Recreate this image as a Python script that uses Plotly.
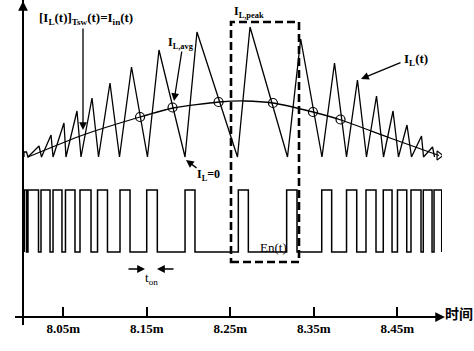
import plotly.graph_objects as go

W, H = 474, 351

# ---------------- data (time in ms) ----------------
# inductor current IL(t) vertices (arbitrary current units, valley = 0)
il_t = [8.0029, 8.0029, 8.0059, 8.0077, 8.0209, 8.0239, 8.0353, 8.0377, 8.0508, 8.0532,
        8.0664, 8.0712, 8.0844, 8.0922, 8.1059, 8.1173, 8.1317, 8.1508, 8.1646, 8.1958,
        8.2101, 8.2586, 8.2736, 8.3185, 8.3343, 8.3598, 8.3748, 8.3892, 8.4023, 8.4131,
        8.4251, 8.4335, 8.4449, 8.4514, 8.4616, 8.4670, 8.4790, 8.4814, 8.4922, 8.4946]
il_v = [0.0, 0.5, 0.5, 0.0, 1.1, 0.0, 2.2, 0.0, 3.4, 0.0,
        4.6, 0.0, 5.9, 0.0, 7.4, 0.0, 9.0, 0.0, 10.7, 0.0,
        12.5, 0.0, 13.0, 0.0, 11.8, 0.0, 9.4, 0.0, 7.7, 0.0,
        6.1, 0.0, 4.6, 0.0, 3.2, 0.0, 2.1, 0.0, 1.0, 0.0]

# average current IL,avg = Iin(t)
avg_t = [8.0077, 8.0736, 8.1419, 8.1814, 8.2365, 8.2676, 8.3011, 8.3490, 8.3826, 8.4413, 8.5000]
avg_v = [0.0, 2.2, 4.0, 4.9, 5.5, 5.6, 5.4, 4.5, 3.7, 1.9, 0.15]

# marked crossing points (circles)
mark_t = [8.1419, 8.1808, 8.2359, 8.3011, 8.3490, 8.3820]
mark_v = [4.0, 4.95, 5.5, 5.4, 4.5, 3.75]

# enable signal En(t): rising / falling edge times
en_rise = [8.0033, 8.0077, 8.0233, 8.0377, 8.0526, 8.0700, 8.0910, 8.1179, 8.1499, 8.1958,
           8.2596, 8.3175, 8.3595, 8.3892, 8.4125, 8.4332, 8.4502, 8.4664, 8.4811, 8.4940]
en_fall = [8.0059, 8.0203, 8.0341, 8.0484, 8.0640, 8.0832, 8.1029, 8.1299, 8.1626, 8.2077,
           8.2716, 8.3299, 8.3714, 8.4014, 8.4245, 8.4437, 8.4613, 8.4784, 8.4916, 8.5032]

tick_vals = [8.05, 8.15, 8.25, 8.35, 8.45]
tick_text = ["8.05m", "8.15m", "8.25m", "8.35m", "8.45m"]

# ---------------- build ----------------
en_x, en_y = [], []
for r, f in zip(en_rise, en_fall):
    en_x += [r, r, f, f]
    en_y += [0, 1, 1, 0]

SERIF = "Liberation Serif"
fig = go.Figure()
fig.add_trace(go.Scatter(x=il_t, y=il_v, mode="lines",
                         line=dict(color="black", width=1.3), hoverinfo="skip"))
fig.add_trace(go.Scatter(x=avg_t, y=avg_v, mode="lines",
                         line=dict(color="black", width=1.3, shape="spline", smoothing=0.6),
                         hoverinfo="skip"))
fig.add_trace(go.Scatter(x=mark_t, y=mark_v, mode="markers",
                         marker=dict(symbol="circle-open", size=9, color="black",
                                     line=dict(width=1.2, color="black")), hoverinfo="skip"))
fig.add_trace(go.Scatter(x=avg_t[-1:], y=avg_v[-1:], mode="markers",
                         marker=dict(symbol="triangle-right-open", size=8, color="black",
                                     line=dict(width=1.2, color="black")), hoverinfo="skip"))
fig.add_trace(go.Scatter(x=en_x, y=en_y, mode="lines", yaxis="y2",
                         line=dict(color="black", width=1.5), hoverinfo="skip"))


def P(px, py):
    return px / W, 1 - py / H


def tx(px):
    return 8.05 + (px - 63.3) / 835.0


ydom0 = 1 - 325 / H
fig.update_layout(
    width=W, height=H, margin=dict(l=0, r=0, t=0, b=0),
    paper_bgcolor="white", plot_bgcolor="white", showlegend=False,
    hovermode=False,
    xaxis=dict(domain=[15 / W, 442 / W], range=[tx(15), tx(442)],
               anchor="free", position=1 - 317 / H,
               showline=True, linecolor="black", linewidth=1.5,
               showgrid=False, zeroline=False,
               ticks="inside", ticklen=9, tickwidth=1.5, tickcolor="black",
               tickvals=tick_vals, ticktext=["<b>%s</b>" % s for s in tick_text],
               tickfont=dict(family=SERIF, size=13, color="black")),
    yaxis=dict(domain=[ydom0, 1], range=[-16.8, 15.7],
               anchor="free", position=23 / W,
               showline=True, linecolor="black", linewidth=1.5,
               showgrid=False, zeroline=False, showticklabels=False, ticks=""),
    yaxis2=dict(domain=[ydom0, 1], range=[-(325 - 252) / 62, 252 / 62],
                overlaying="y", visible=False),
)

# dashed box around the peak
x0, y0 = P(231, 262)
x1, y1 = P(299, 22)
fig.add_shape(type="rect", xref="paper", yref="paper", x0=x0, x1=x1, y0=y0, y1=y1,
              line=dict(color="black", width=2.6, dash="8px,4px"))

anns = []


def arrow(tip, tail, head=2, size=1.2, width=1.3):
    x, y = P(*tip)
    anns.append(dict(x=x, y=y, xref="paper", yref="paper", text="", showarrow=True,
                     ax=tail[0] - tip[0], ay=tail[1] - tip[1], axref="pixel", ayref="pixel",
                     arrowhead=head, arrowsize=size, arrowwidth=width, arrowcolor="black"))


def label(text, pos, size=13, family=SERIF):
    x, y = P(*pos)
    anns.append(dict(x=x, y=y, xref="paper", yref="paper", text=text, showarrow=False,
                     xanchor="center", yanchor="middle",
                     font=dict(family=family, size=size, color="black")))


# axis arrows
arrow((445, 317), (430, 317), size=1.3, width=1.5)
arrow((23, 0), (23, 15), size=1.3, width=1.5)

# annotation arrows
arrow((83, 130), (83, 27))
arrow((174, 101), (182, 50))
arrow((361, 79), (402, 62))
arrow((186, 160), (198, 169))
arrow((145, 269), (127, 269))
arrow((157, 269), (175, 269))

label("<b>[I<sub>L</sub>(t)]<sub>Tsw</sub>(t)=I<sub>in</sub>(t)</b>", (86, 19), size=13)
label("<b>I<sub>L,avg</sub></b>", (181, 43), size=12)
label("<b>I<sub>L,peak</sub></b>", (249, 12), size=12)
label("<b>I<sub>L</sub>(t)</b>", (416, 59), size=13)
label("<b>I<sub>L</sub>=0</b>", (208, 175), size=12)
label("En(t)", (273, 247), size=13)
label("t<sub>on</sub>", (151, 278), size=13)
label("<b>时间</b>", (459, 313), size=14, family="Noto Sans CJK SC")

fig.update_layout(annotations=anns)
fig.write_html("out.html", config={"displayModeBar": False})
